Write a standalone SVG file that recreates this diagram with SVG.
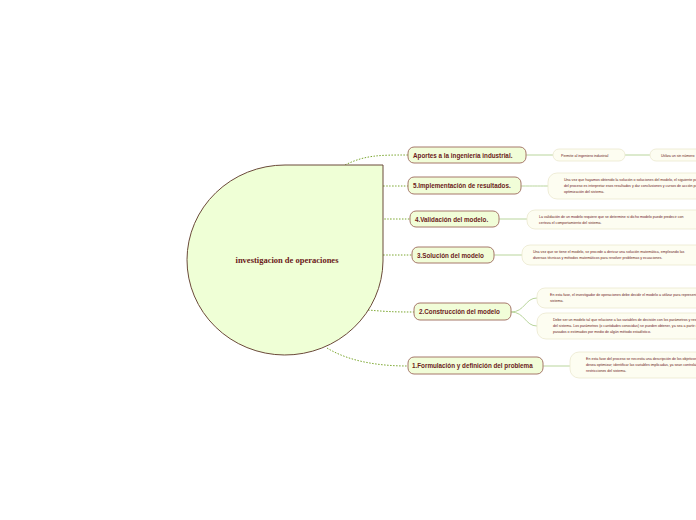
<svg xmlns="http://www.w3.org/2000/svg" width="696" height="520" viewBox="0 0 696 520">
<style>
.n{fill:#f1fdd8;stroke:#a6786a;stroke-width:1}
.l{fill:#fdfdf1;stroke:#ebe8cf;stroke-width:0.8}
.t{font-family:"Liberation Sans",sans-serif;font-weight:bold;font-size:6.3px;fill:#6b1a1a}
.s{font-family:"Liberation Sans",sans-serif;font-size:3.6px;fill:#6b1a1a}
.d{fill:none;stroke:#7aa62e;stroke-width:1;stroke-dasharray:1.5,1.5}
.c{fill:none;stroke:#b9d59c;stroke-width:1}
</style>
<rect width="696" height="520" fill="#fff"/>
<g id="connectors">
<path class="d" d="M345,165 C365,155 380,155 408,155"/>
<path class="d" d="M383,186 C395,186 400,186 408,186"/>
<path class="d" d="M381,219 C395,219 400,219 410,219"/>
<path class="d" d="M383,255 C395,255 400,255 412,255"/>
<path class="d" d="M368,310 C390,312 400,312 414,312"/>
<path class="d" d="M327,348 C350,362 380,366 408,366"/>
<path class="c" d="M526,155 H553"/>
<path class="c" d="M625,155 H650"/>
<path class="c" d="M521,186 C535,186 535,186 548,186"/>
<path class="c" d="M499,219 H527"/>
<path class="c" d="M494,255 H522"/>
<path class="c" d="M511,312 C525,312 525,298 537,298"/>
<path class="c" d="M511,312 C525,312 525,326 537,326"/>
<path class="c" d="M543,366 H570"/>
</g>
<g id="root">
<path d="M285,165 H383 V261 A98,95 0 1 1 285,165 Z" fill="#efffd6" stroke="#6b4a3a" stroke-width="1"/>
<text x="287" y="263" text-anchor="middle" style="font-family:'Liberation Serif',serif;font-weight:bold;font-size:8.5px;fill:#6b1a1a">investigacion de operaciones</text>
</g>
<g id="n6"><rect class="n" x="408" y="147" width="118" height="16" rx="6"/><text class="t" x="413" y="157.5">Aportes a la ingeniería industrial.</text></g>
<g id="n5"><rect class="n" x="408" y="177" width="113" height="17" rx="6"/><text class="t" x="413" y="188">5.Implementación de resultados.</text></g>
<g id="n4"><rect class="n" x="410" y="211" width="89" height="16" rx="6"/><text class="t" x="415" y="221.5">4.Validación del modelo.</text></g>
<g id="n3"><rect class="n" x="412" y="247" width="82" height="16" rx="6"/><text class="t" x="417" y="257.5">3.Solución del modelo</text></g>
<g id="n2"><rect class="n" x="414" y="303" width="97" height="17" rx="6"/><text class="t" x="419" y="314">2.Construcción del modelo</text></g>
<g id="n1"><rect class="n" x="408" y="357" width="135" height="17" rx="6"/><text class="t" x="412" y="368">1.Formulación y definición del problema</text></g>
<g id="l6a"><rect class="l" x="553" y="149" width="72" height="12" rx="6"/><text class="s" x="561" y="156.5">Permite al ingeniero industrial</text></g>
<g id="l6b"><rect class="l" x="650" y="149" width="60" height="12" rx="6"/><text class="s" x="661" y="156.5">Utiliza un sin número</text></g>
<g id="l5"><rect class="l" x="548" y="173" width="160" height="26" rx="9"/><text class="s" x="564" y="180.5">Una vez que hayamos obtenido la solución o soluciones del modelo, el siguiente paso</text><text class="s" x="564" y="186.5">del proceso es interpretar esos resultados y dar conclusiones y cursos de acción para la</text><text class="s" x="564" y="192.5">optimización del sistema.</text></g>
<g id="l4"><rect class="l" x="527" y="210" width="180" height="19" rx="8"/><text class="s" x="539" y="217.5">La validación de un modelo requiere que se determine si dicho modelo puede predecir con</text><text class="s" x="539" y="223.5">certeza el comportamiento del sistema.</text></g>
<g id="l3"><rect class="l" x="522" y="245" width="185" height="20" rx="8"/><text class="s" x="533" y="252.5">Una vez que se tiene el modelo, se procede a derivar una solución matemática, empleando las</text><text class="s" x="533" y="258.5">diversas técnicas y métodos matemáticos para resolver problemas y ecuaciones.</text></g>
<g id="l2a"><rect class="l" x="537" y="288" width="170" height="20" rx="8"/><text class="s" x="550" y="295.5">En esta fase, el investigador de operaciones debe decidir el modelo a utilizar para representar el</text><text class="s" x="550" y="301.5">sistema.</text></g>
<g id="l2b"><rect class="l" x="537" y="313" width="170" height="26" rx="9"/><text class="s" x="553" y="320.5">Debe ser un modelo tal que relacione a las variables de decisión con los parámetros y restricciones</text><text class="s" x="553" y="326.5">del sistema. Los parámetros (o cantidades conocidas) se pueden obtener, ya sea a partir de datos</text><text class="s" x="553" y="332.5">pasados o estimados por medio de algún método estadístico.</text></g>
<g id="l1"><rect class="l" x="570" y="352" width="140" height="26" rx="9"/><text class="s" x="586" y="359.5">En esta fase del proceso se necesita una descripción de los objetivos del sistema, es decir, qué se</text><text class="s" x="586" y="365.5">desea optimizar; identificar las variables implicadas, ya sean controlables o no; determinar las</text><text class="s" x="586" y="371.5">restricciones del sistema.</text></g>
</svg>
